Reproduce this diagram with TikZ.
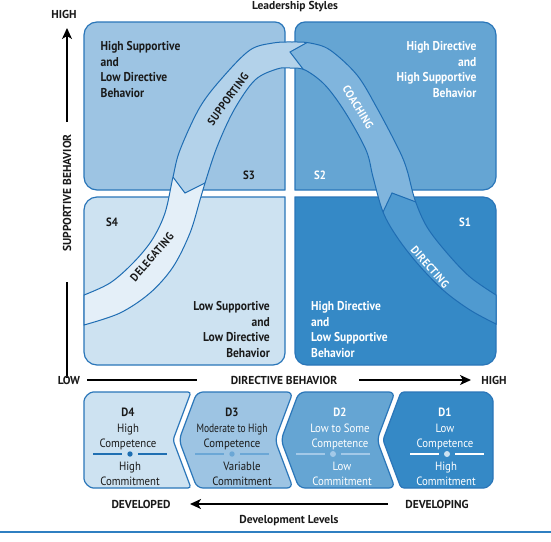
\documentclass[tikz,border=0pt]{standalone}
\usepackage{fontspec}
\setmainfont{PT Sans}[FakeStretch=0.9]
\newfontfamily\labfont{PT Sans}
\newfontfamily\arcfont{PT Sans}[FakeStretch=0.9,LetterSpace=4]
\usetikzlibrary{arrows.meta}
\definecolor{edgeblue}{HTML}{2A76B9}
\definecolor{bandedge}{HTML}{1F6DB3}
\definecolor{cSfour}{HTML}{CDE2F1}
\definecolor{cSthree}{HTML}{9DC4E3}
\definecolor{cStwo}{HTML}{65A5D3}
\definecolor{cSone}{HTML}{3589C6}
\definecolor{cDel}{HTML}{E4EFF8}
\definecolor{cSup}{HTML}{B3D2EA}
\definecolor{cCoa}{HTML}{80B5DD}
\definecolor{cDir}{HTML}{4F9AD0}
\definecolor{ink}{HTML}{1A1A1A}
\definecolor{rulecol}{HTML}{2F7FC1}
\definecolor{dlfour}{HTML}{1F6FB2}
\definecolor{dlthree}{HTML}{6BA7D6}
\definecolor{dltwo}{HTML}{A3C9E8}
\newcommand{\qbox}[9]{%
  \path[#1] (#2+#6,#3) -- (#4-#7,#3) arc[start angle=270,end angle=360,radius=#7]
    -- (#4,#5-#8) arc[start angle=0,end angle=90,radius=#8]
    -- (#2+#9,#5) arc[start angle=90,end angle=180,radius=#9]
    -- (#2,#3+#6) arc[start angle=180,end angle=270,radius=#6] -- cycle;}
\begin{document}
\begin{tikzpicture}[x=1pt,y=-1pt,
  qbord/.style={draw=edgeblue,line width=1.2pt},
  chev/.style={draw=edgeblue,line width=1.2pt},
  bedge/.style={draw=bandedge,line width=1pt},
  qtxt/.style={font=\bfseries\fontsize{12.8}{15.5}\selectfont,inner sep=0pt},
  dtxt/.style={font=\fontsize{12}{15.5}\selectfont,inner sep=0pt,align=center},
  lab/.style={font=\labfont\bfseries\fontsize{11.5}{13}\selectfont,inner sep=0pt,text=ink},
  slab/.style={font=\bfseries\fontsize{12}{13}\selectfont,inner sep=0pt},
  arclab/.style={font=\arcfont\bfseries\fontsize{11.3}{12}\selectfont,inner sep=0pt},
  axisline/.style={draw=black,line width=1.5pt},
  tip/.style={-{Stealth[length=11pt,width=10pt,inset=3pt]}}
]
\useasboundingbox (0,0) rectangle (551,541);
\fill[white] (0,0) rectangle (551,541);

% quadrants
\qbox{qbord,fill=cSthree}{84}{22}{285}{190}{13}{10}{0.01}{13}
\qbox{qbord,fill=cStwo}{295}{22}{496}{190}{10}{13}{13}{0.01}
\qbox{qbord,fill=cSfour}{84}{197}{285}{365}{13}{0.01}{12}{13}
\qbox{qbord,fill=cSone}{295}{197}{496}{365}{0.01}{13}{13}{12}

% band
\path[save path=\bandpath]
  plot[smooth,tension=0.55] coordinates {(84,295) (110,283) (133,263) (152,240) (165,213) (173,177) (180,150) (200,107) (223,77) (250,50) (273,43) (292,42) (310,43) (330,50) (357,75) (377,108) (399,150) (407,170) (415,200) (427,227) (447,253) (470,277) (496,295)}
  -- plot[smooth,tension=0.55] coordinates {(496,324) (470,310) (443,290) (417,263) (397,237) (383,212) (373,177) (366,150) (345,112) (325,85) (305,70) (290,68) (277,69) (255,80) (234,110) (217,147) (205,183) (200,200) (190,233) (173,267) (150,293) (120,313) (84,325)}
  -- cycle;
\begin{scope}
  \clip[use path=\bandpath];
  \fill[cDel] (0,541) -- (0,129) -- (137,129) -- (185,193) -- (245,163) -- (245,541) -- cycle;
  \fill[cSup] (0,0) -- (0,129) -- (137,129) -- (185,193) -- (245,163) -- (329,103) -- (290,52) -- (344,22) -- (344,0) -- cycle;
  \fill[cCoa] (344,0) -- (344,22) -- (290,52) -- (329,103) -- (374,231) -- (392,193) -- (464,220) -- (551,220) -- (551,0) -- cycle;
  \fill[cDir] (374,231) -- (392,193) -- (464,220) -- (551,220) -- (551,541) -- (374,541) -- cycle;
  \draw[bedge] (137,129) -- (185,193) -- (245,163);
  \draw[bedge] (344,22) -- (290,52) -- (329,103);
  \draw[bedge] (374,231) -- (392,193) -- (464,220);
\end{scope}
\draw[use path=\bandpath,bedge];

% band labels
\node[arclab,text=ink,rotate=54] (tsup) at (228,99) {SUPPORTING};
\node[arclab,text=white,rotate=-59] (tcoa) at (358,107) {COACHING};
\node[arclab,text=ink,rotate=49] (tdel) at (152,257) {DELEGATING};
\node[arclab,text=white,rotate=-49] (tdir) at (430,267) {DIRECTING};

% quadrant texts
\node[qtxt,text=ink,align=left,anchor=north west] (q3) at (100.5,41.4) {High Supportive\\and\\Low Directive\\Behavior};
\node[qtxt,text=white,align=right,anchor=north east] (q2) at (476.6,41.4) {High Directive\\and\\High Supportive\\Behavior};
\node[qtxt,text=ink,align=right,anchor=north east] (q4) at (270,301.4) {Low Supportive\\and\\Low Directive\\Behavior};
\node[qtxt,text=white,align=left,anchor=north west] (q1) at (311,301.4) {High Directive\\and\\Low Supportive\\Behavior};

\node[slab,text=ink] (s3) at (249,175) {S3};
\node[slab,text=white] (s2) at (320,175) {S2};
\node[slab,text=ink] (s4) at (112,222) {S4};
\node[slab,text=white] (s1) at (465,222) {S1};

% axes
\node[lab] (lstyles) at (295,7) {Leadership Styles};
\node[lab] (vhigh) at (64,14) {HIGH};
\coordinate (vtop) at (67,28);
\coordinate (vbot) at (67,122);
\draw[axisline,tip] (vbot) -- (vtop);
\node[lab,rotate=90] (vlab) at (67,193) {SUPPORTIVE BEHAVIOR};
\coordinate (vlow1) at (67,282);
\coordinate (vlow2) at (67,378);
\draw[axisline] (vlow1) -- (vlow2);
\node[lab] (hlow) at (69,380) {LOW};
\coordinate (h1) at (87,380);
\coordinate (h2) at (197,380);
\draw[axisline] (h1) -- (h2);
\node[lab] (hlab) at (284,380) {DIRECTIVE BEHAVIOR};
\coordinate (h3) at (359,380);
\coordinate (h4) at (471,380);
\draw[axisline,tip] (h3) -- (h4);
\node[lab] (hhigh) at (494,380) {HIGH};

% development chevrons
\path[chev,fill=cSfour,rounded corners=3] (191,392) -- (96,392) arc[start angle=270,end angle=180,radius=12] -- (84,476) arc[start angle=180,end angle=90,radius=12] -- (191,488) -- (173,440) -- cycle;
\path[chev,fill=cSthree,rounded corners=6] (197,392) -- (293,392) -- (275,440) -- (293,488) -- (197,488) -- (179,440) -- cycle;
\path[chev,fill=cStwo,rounded corners=6] (299,392) -- (395,392) -- (377,440) -- (395,488) -- (299,488) -- (281,440) -- cycle;
\path[chev,fill=cSone,rounded corners=3] (401,392) -- (481,392) arc[start angle=270,end angle=360,radius=12] -- (493,476) arc[start angle=0,end angle=90,radius=12] -- (401,488) -- (383,440) -- cycle;

% dot lines
\draw[dlfour,line width=1.5pt] (93,454) -- (122,454) (138,454) -- (167,454);
\fill[dlfour] (130,454) circle (2.7);
\draw[dlthree,line width=1.5pt] (195,454) -- (224,454) (240,454) -- (269,454);
\fill[dlthree] (232,454) circle (2.7);
\draw[dltwo,line width=1.5pt] (296,454) -- (325,454) (341,454) -- (370,454);
\fill[dltwo] (333,454) circle (3);
\draw[white,line width=1.5pt] (410,454) -- (439,454) (455,454) -- (484,454);
\fill[cSfour] (447,454) circle (3);

% chevron texts
\node[dtxt,text=ink,anchor=north] (d4a) at (128,407.8) {\textbf{D4}\\High\\Competence};
\node[dtxt,text=ink,anchor=north] (d4b) at (130,461.5) {High\\Commitment};
\node[dtxt,text=ink,anchor=north] (d3a) at (232,407.8) {\textbf{D3}\\\scalebox{0.88}[1]{Moderate to High}\\Competence};
\node[dtxt,text=ink,anchor=north] (d3b) at (242,461.5) {Variable\\Commitment};
\node[dtxt,text=white,anchor=north] (d2a) at (340,407.8) {\textbf{D2}\\Low to Some\\Competence};
\node[dtxt,text=white,anchor=north] (d2b) at (342,461.5) {Low\\Commitment};
\node[dtxt,text=white,anchor=north] (d1a) at (445,407.8) {\textbf{D1}\\Low\\Competence};
\node[dtxt,text=white,anchor=north] (d1b) at (446,461.5) {High\\Commitment};

% development axis
\node[lab] (developed) at (141,504) {DEVELOPED};
\node[lab] (developing) at (437,504) {DEVELOPING};
\coordinate (b1) at (388,504);
\coordinate (b2) at (190,504);
\draw[axisline,tip] (b1) -- (b2);
\node[lab] (devlev) at (289,521) {Development Levels};
\coordinate (r1) at (0,532);
\coordinate (r2) at (551,532);
\draw[rulecol,line width=1.2pt] (r1) -- (r2);
\end{tikzpicture}
\end{document}
